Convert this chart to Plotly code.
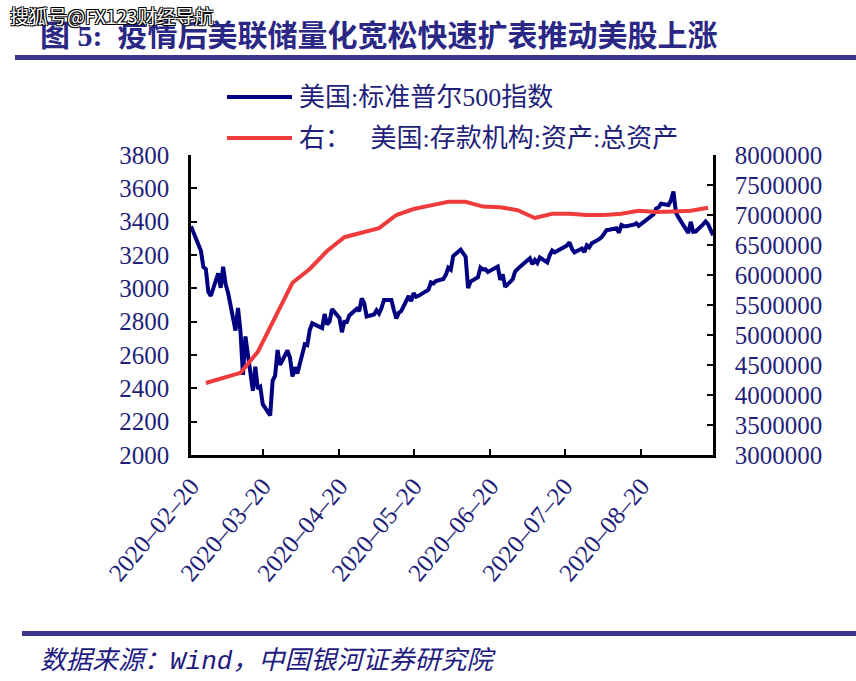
import plotly.graph_objects as go

# ---------------- data ----------------
spx_dates = [
    "2020-02-20", "2020-02-21", "2020-02-24", "2020-02-25", "2020-02-26", "2020-02-27", "2020-02-28",
    "2020-03-02", "2020-03-03", "2020-03-04", "2020-03-05", "2020-03-06", "2020-03-09", "2020-03-10",
    "2020-03-11", "2020-03-12", "2020-03-13", "2020-03-16", "2020-03-17", "2020-03-18", "2020-03-19",
    "2020-03-20", "2020-03-23", "2020-03-24", "2020-03-25", "2020-03-26", "2020-03-27", "2020-03-30",
    "2020-03-31",
    "2020-04-01", "2020-04-02", "2020-04-03", "2020-04-06", "2020-04-07", "2020-04-08", "2020-04-09",
    "2020-04-13", "2020-04-14", "2020-04-15", "2020-04-16", "2020-04-17", "2020-04-20", "2020-04-21",
    "2020-04-22", "2020-04-23", "2020-04-24", "2020-04-27", "2020-04-28", "2020-04-29", "2020-04-30",
    "2020-05-01", "2020-05-04", "2020-05-05", "2020-05-06", "2020-05-07", "2020-05-08", "2020-05-11",
    "2020-05-12", "2020-05-13", "2020-05-14", "2020-05-15", "2020-05-18", "2020-05-19", "2020-05-20",
    "2020-05-21", "2020-05-22", "2020-05-26", "2020-05-27", "2020-05-28", "2020-05-29",
    "2020-06-01", "2020-06-02", "2020-06-03", "2020-06-04", "2020-06-05", "2020-06-08", "2020-06-09",
    "2020-06-10", "2020-06-11", "2020-06-12", "2020-06-15", "2020-06-16", "2020-06-17", "2020-06-18",
    "2020-06-19", "2020-06-22", "2020-06-23", "2020-06-24", "2020-06-25", "2020-06-26", "2020-06-29",
    "2020-06-30",
    "2020-07-01", "2020-07-02", "2020-07-06", "2020-07-07", "2020-07-08", "2020-07-09", "2020-07-10",
    "2020-07-13", "2020-07-14", "2020-07-15", "2020-07-16", "2020-07-17", "2020-07-20", "2020-07-21",
    "2020-07-22", "2020-07-23", "2020-07-24", "2020-07-27", "2020-07-28", "2020-07-29", "2020-07-30",
    "2020-07-31",
    "2020-08-03", "2020-08-04", "2020-08-05", "2020-08-06", "2020-08-07", "2020-08-10", "2020-08-11",
    "2020-08-12", "2020-08-13", "2020-08-14", "2020-08-17", "2020-08-18", "2020-08-19", "2020-08-20",
    "2020-08-21", "2020-08-24", "2020-08-25", "2020-08-26", "2020-08-27", "2020-08-28", "2020-08-31",
    "2020-09-01", "2020-09-02", "2020-09-03", "2020-09-04", "2020-09-08", "2020-09-09", "2020-09-10",
    "2020-09-11", "2020-09-14", "2020-09-15", "2020-09-16", "2020-09-17", "2020-09-18",
]
spx_values = [
    3373, 3338, 3226, 3128, 3116, 2979, 2954,
    3090, 3003, 3130, 3024, 2972, 2747, 2882,
    2741, 2481, 2711, 2386, 2529, 2398, 2409,
    2305, 2237, 2447, 2476, 2630, 2541, 2627,
    2585,
    2471, 2527, 2489, 2664, 2659, 2750, 2790,
    2762, 2846, 2783, 2800, 2875, 2823, 2737,
    2799, 2798, 2837, 2878, 2863, 2940, 2912,
    2831, 2843, 2868, 2848, 2881, 2930, 2930,
    2870, 2820, 2853, 2864, 2954, 2923, 2972,
    2949, 2955, 2992, 3036, 3030, 3044,
    3056, 3081, 3123, 3112, 3194, 3232, 3207,
    3190, 3002, 3041, 3067, 3125, 3113, 3115,
    3098, 3118, 3131, 3050, 3084, 3009, 3053,
    3100,
    3116, 3130, 3180, 3145, 3170, 3152, 3185,
    3155, 3198, 3227, 3216, 3225, 3252, 3257,
    3276, 3236, 3216, 3239, 3218, 3258, 3246,
    3271,
    3295, 3307, 3328, 3349, 3351, 3360, 3334,
    3380, 3373, 3373, 3382, 3390, 3375, 3386,
    3397, 3431, 3444, 3479, 3485, 3508, 3500,
    3527, 3581, 3455, 3427, 3332, 3399, 3339,
    3341, 3384, 3401, 3385, 3357, 3319,
]

assets_dates = [
    "2020-02-26", "2020-03-04", "2020-03-11", "2020-03-18", "2020-03-25",
    "2020-04-01", "2020-04-08", "2020-04-15", "2020-04-22", "2020-04-29",
    "2020-05-06", "2020-05-13", "2020-05-20", "2020-05-27",
    "2020-06-03", "2020-06-10", "2020-06-17", "2020-06-24",
    "2020-07-01", "2020-07-08", "2020-07-15", "2020-07-22", "2020-07-29",
    "2020-08-05", "2020-08-12", "2020-08-19", "2020-08-26",
    "2020-09-02", "2020-09-09", "2020-09-16",
]
assets_values = [
    4200000, 4280000, 4370000, 4720000, 5300000,
    5870000, 6100000, 6400000, 6630000, 6700000,
    6780000, 7000000, 7100000, 7160000,
    7220000, 7220000, 7140000, 7130000,
    7080000, 6950000, 7020000, 7020000, 7000000,
    7000000, 7020000, 7070000, 7050000,
    7060000, 7070000, 7120000,
]

series_names = ["美国:标准普尔500指数", "右：\u00a0\u00a0 美国:存款机构:资产:总资产"]
title_text = "图 5:  疫情后美联储量化宽松快速扩表推动美股上涨"
source_text = "数据来源：<span style=\"font-family:Liberation Mono\">Wind</span>，中国银河证券研究院"
watermark_text = "搜狐号@FX123财经导航"
x_range = ["2020-02-20", "2020-09-18"]
left_range = [2000, 3800]
right_range = [3000000, 8000000]

# ---------------- layout helpers ----------------
W, H = 856, 681
L, R, T, B = 191, 713, 155, 455


def px(x):
    return (x - L) / (R - L)


def py(y):
    return (B - y) / (B - T)


NAVY = "#000080"
RED = "#ef3b3b"
TXT = "#1f1f7a"
BAR = "#3d3590"
SERIF = "'Liberation Serif', 'Noto Sans CJK SC', serif"

fig = go.Figure()
fig.add_trace(go.Scatter(x=spx_dates, y=spx_values, mode="lines", name=series_names[0],
                         line=dict(color=NAVY, width=4), showlegend=False, yaxis="y"))
fig.add_trace(go.Scatter(x=assets_dates, y=assets_values, mode="lines", name=series_names[1],
                         line=dict(color=RED, width=4), showlegend=False, yaxis="y2"))

axis_common = dict(showline=True, linecolor="black", linewidth=2.5, ticks="inside",
                   ticklen=6, tickwidth=2, tickcolor="black", showgrid=False, zeroline=False,
                   tickfont=dict(family=SERIF, size=25, color=TXT))

fig.update_layout(
    width=W, height=H,
    margin=dict(l=L, r=W - R, t=T, b=H - B, pad=0),
    paper_bgcolor="white", plot_bgcolor="white",
    xaxis=dict(type="date", range=x_range, tick0="2020-02-20", dtick="M1",
               tickformat="%Y\u2013%m\u2013%d", tickangle=-50, ticklabelstandoff=4,
               **axis_common),
    yaxis=dict(range=left_range, dtick=200, tickformat="d", ticklabelstandoff=14,
               **axis_common),
    yaxis2=dict(range=right_range, dtick=500000, tickformat="d", overlaying="y", side="right",
                ticklabelstandoff=14, **axis_common),
    showlegend=False,
)

shapes = [
    # title rule
    dict(type="rect", xref="paper", yref="paper", x0=px(15), x1=px(856), y0=py(60), y1=py(55),
         fillcolor=BAR, line=dict(width=0), layer="above"),
    # footer rule
    dict(type="rect", xref="paper", yref="paper", x0=px(22), x1=px(856), y0=py(636), y1=py(631),
         fillcolor=BAR, line=dict(width=0), layer="above"),
    # legend samples
    dict(type="line", xref="paper", yref="paper", x0=px(227), x1=px(292), y0=py(97), y1=py(97),
         line=dict(color=NAVY, width=4)),
    dict(type="line", xref="paper", yref="paper", x0=px(227), x1=px(292), y0=py(138), y1=py(138),
         line=dict(color=RED, width=4)),
]

annotations = [
    dict(text=title_text, xref="paper", yref="paper", x=px(38), y=py(35), xanchor="left",
         yanchor="middle", showarrow=False,
         font=dict(family=SERIF, size=30, color="#2a2785", weight="bold")),
    dict(text=watermark_text, xref="paper", yref="paper", x=px(8), y=py(15), xanchor="left",
         yanchor="middle", showarrow=False,
         font=dict(family="Noto Sans CJK SC", size=19, color="white",
                   shadow="-1px -1px 0 #000, 1px -1px 0 #000, -1px 1px 0 #000, 1px 1px 0 #000")),
    dict(text=series_names[0], xref="paper", yref="paper", x=px(297), y=py(97), xanchor="left",
         yanchor="middle", showarrow=False, font=dict(family=SERIF, size=26, color=TXT)),
    dict(text=series_names[1], xref="paper", yref="paper", x=px(297), y=py(138), xanchor="left",
         yanchor="middle", showarrow=False, font=dict(family=SERIF, size=26, color=TXT)),
    dict(text=source_text, xref="paper", yref="paper", x=px(38), y=py(658), xanchor="left",
         yanchor="middle", showarrow=False,
         font=dict(family="Noto Sans CJK SC", size=26, color="#1e1a80", style="italic")),
]

fig.update_layout(shapes=shapes, annotations=annotations)
fig.write_html("out.html")
